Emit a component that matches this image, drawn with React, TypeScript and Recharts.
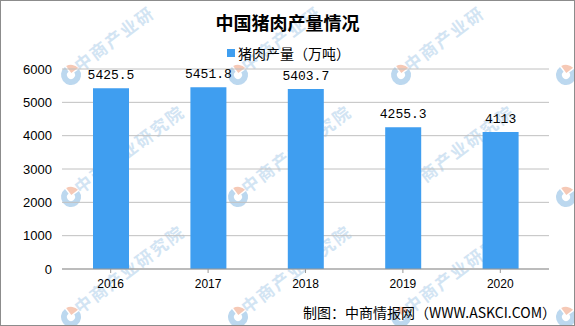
import React from "react";
import { BarChart, Bar, XAxis, YAxis, CartesianGrid, LabelList } from "recharts";

const years = ["2016", "2017", "2018", "2019", "2020"];
const output = [5425.5, 5451.8, 5403.7, 4255.3, 4113];
const yTicks = [0, 1000, 2000, 3000, 4000, 5000, 6000];
const title = "中国猪肉产量情况";
const seriesName = "猪肉产量（万吨）";
const source = "制图：中商情报网（WWW.ASKCI.COM）";
const watermarkText = "中商产业研究院";

const data = years.map((y, i) => ({ year: y, value: output[i] }));

const BLUE = "#3F9EF0";
const cjk = "'Noto Sans CJK SC', 'Noto Sans', sans-serif";
const sans = "'Liberation Sans', Arial, sans-serif";
const mono = "'Liberation Mono', monospace";

const wmCols = [-95, 71, 238, 401, 566];
const wmRows = [75, 197, 317];

const ANG = -37;
const COS = Math.cos((ANG * Math.PI) / 180);
const SIN = Math.sin((ANG * Math.PI) / 180);

function Watermarks() {
  const items: React.ReactNode[] = [];
  const chars = Array.from(watermarkText);
  wmRows.forEach((cy, r) =>
    wmCols.forEach((cx, c) => {
      if (cx > -10 && cx < 585) {
        items.push(
          <g key={`l-${r}-${c}`} transform={`translate(${cx},${cy}) rotate(${ANG})`}>
            <circle cx={0} cy={0} r={10} fill="#fff" />
            <path d="M 0 -10 A 10 10 0 1 0 10 0 L 4 0 A 4 4 0 1 1 0 -4 Z" fill="#bcd8ef" />
            <path d="M 1.5 -10 A 10 10 0 0 1 10 -1.5 L 1.5 -1.5 Z" fill="#f6c9b6" />
          </g>
        );
      }
      chars.forEach((ch, i) => {
        const lx = 17.5 + i * 19;
        const ly = -4;
        const x = cx + COS * lx - SIN * ly;
        const y = cy + SIN * lx + COS * ly;
        if (x < 11 || x > 562 || y < 11 || y > 314) return;
        items.push(
          <text
            key={`t-${r}-${c}-${i}`}
            x={x}
            y={y}
            transform={`rotate(${ANG} ${x} ${y})`}
            textAnchor="middle"
            dominantBaseline="central"
            fontFamily={cjk}
            fontWeight="bold"
            fontSize={17}
            fill="#d2e4f3"
          >
            {ch}
          </text>
        );
      });
    })
  );
  return (
    <svg width={575} height={326} style={{ position: "absolute", left: -1, top: -1 }}>
      {items}
    </svg>
  );
}

export default function App() {
  return (
    <div
      style={{
        position: "absolute",
        left: 0,
        top: 0,
        width: 575,
        height: 326,
        boxSizing: "border-box",
        border: "1px solid #8c8c8c",
        background: "#fff",
        overflow: "hidden",
      }}
    >
      <Watermarks />
      <div style={{ position: "absolute", left: -1, top: -1, width: 575, height: 326 }}>
        <BarChart
          width={575}
          height={326}
          data={data}
          margin={{ top: 69, right: 26, bottom: 27, left: 0 }}
        >
          <CartesianGrid vertical={false} stroke="#c0c0c0" />
          <XAxis
            dataKey="year"
            height={30}
            stroke="#999"
            tickLine={{ stroke: "#999" }}
            tickSize={4}
            tickMargin={6}
            tick={{ fill: "#000", fontSize: 12, fontFamily: sans }}
          />
          <YAxis
            width={62}
            domain={[0, 6000]}
            ticks={yTicks}
            axisLine={false}
            tickLine={false}
            tickMargin={4}
            tick={{ fill: "#000", fontSize: 13, fontFamily: sans }}
          />
          <Bar dataKey="value" fill={BLUE} barSize={36} isAnimationActive={false}>
            <LabelList
              dataKey="value"
              position="top"
              offset={9}
              style={{ fill: "#000", fontSize: 13, fontFamily: mono }}
            />
          </Bar>
        </BarChart>
      </div>
      <div
        style={{
          position: "absolute",
          left: -1,
          top: 9,
          width: 575,
          textAlign: "center",
          fontFamily: cjk,
          fontWeight: "bold",
          fontSize: 18,
          lineHeight: "24px",
          color: "#000",
        }}
      >
        {title}
      </div>
      <div
        style={{
          position: "absolute",
          left: 0,
          top: 42,
          width: 575,
          display: "flex",
          justifyContent: "center",
          alignItems: "center",
          fontFamily: cjk,
          fontSize: 14,
          lineHeight: "20px",
          color: "#000",
        }}
      >
        <span
          style={{ display: "inline-block", width: 8, height: 8, background: BLUE, marginRight: 3 }}
        />
        <span>{seriesName}</span>
      </div>
      <div
        style={{
          position: "absolute",
          right: 18,
          top: 302,
          fontFamily: cjk,
          fontSize: 14,
          lineHeight: "19px",
          color: "#000",
          whiteSpace: "nowrap",
        }}
      >
        {source}
      </div>
    </div>
  );
}
